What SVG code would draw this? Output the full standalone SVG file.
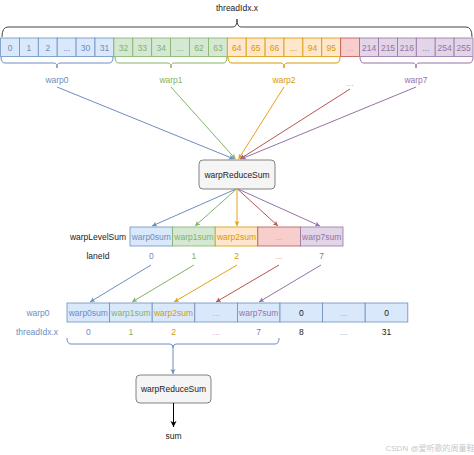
<svg xmlns="http://www.w3.org/2000/svg" width="474" height="455" viewBox="0 0 474 455">
<style>
text{font-family:"Liberation Sans","DejaVu Sans",sans-serif;font-size:8.5px;text-anchor:middle;dominant-baseline:central}
.b{fill:#dae8fc;stroke:#6c8ebf;stroke-width:0.8}
.g{fill:#d5e8d4;stroke:#82b366;stroke-width:0.8}
.o{fill:#ffe6cc;stroke:#d79b00;stroke-width:0.8}
.r{fill:#f8cecc;stroke:#b85450;stroke-width:0.8}
.p{fill:#e1d5e7;stroke:#9673a6;stroke-width:0.8}
.tb{fill:#6c8ebf}.tg{fill:#82b366}.to{fill:#d79b00}.tr{fill:#e8a0a0}.tp{fill:#9673a6}.tk{fill:#222}.tgr{fill:#aaa}
.br{fill:none;stroke-width:1}
.ln{fill:none;stroke-width:1}
.box{fill:#f5f5f5;stroke:#666;stroke-width:0.8}
</style>
<defs>
<marker id="mb" markerWidth="6" markerHeight="6" refX="5" refY="3" orient="auto" markerUnits="userSpaceOnUse"><path d="M0,0.5 L5,3 L0,5.5 L1.2,3 Z" fill="#6c8ebf"/></marker>
<marker id="mg" markerWidth="6" markerHeight="6" refX="5" refY="3" orient="auto" markerUnits="userSpaceOnUse"><path d="M0,0.5 L5,3 L0,5.5 L1.2,3 Z" fill="#82b366"/></marker>
<marker id="mo" markerWidth="6" markerHeight="6" refX="5" refY="3" orient="auto" markerUnits="userSpaceOnUse"><path d="M0,0.5 L5,3 L0,5.5 L1.2,3 Z" fill="#e3a21a"/></marker>
<marker id="mr" markerWidth="6" markerHeight="6" refX="5" refY="3" orient="auto" markerUnits="userSpaceOnUse"><path d="M0,0.5 L5,3 L0,5.5 L1.2,3 Z" fill="#b85450"/></marker>
<marker id="mp" markerWidth="6" markerHeight="6" refX="5" refY="3" orient="auto" markerUnits="userSpaceOnUse"><path d="M0,0.5 L5,3 L0,5.5 L1.2,3 Z" fill="#9673a6"/></marker>
<marker id="mk" markerWidth="7" markerHeight="7" refX="6" refY="3.5" orient="auto" markerUnits="userSpaceOnUse"><path d="M0,0.5 L6,3.5 L0,6.5 L1.5,3.5 Z" fill="#000"/></marker>
</defs>

<!-- top label and brace -->
<g id="threadIdxTop">
<text x="237" y="8" class="tk">threadIdx.x</text>
<path class="br" stroke="#444" d="M2,37 Q2,27 8,27 H233 Q237,27 237,19 Q237,27 241,27 H466 Q472,27 472,37"/>
</g>

<!-- top row of threads -->
<g id="threadsRow">
<rect class="b" x="0.5" y="38" width="18.9" height="18.5"/><text x="10" y="47.5" class="tb">0</text>
<rect class="b" x="19.4" y="38" width="18.9" height="18.5"/><text x="28.9" y="47.5" class="tb">1</text>
<rect class="b" x="38.3" y="38" width="18.9" height="18.5"/><text x="47.8" y="47.5" class="tb">2</text>
<rect class="b" x="57.2" y="38" width="18.9" height="18.5"/><text x="66.7" y="47.5" class="tb">...</text>
<rect class="b" x="76.1" y="38" width="18.9" height="18.5"/><text x="85.6" y="47.5" class="tb">30</text>
<rect class="b" x="95" y="38" width="18.9" height="18.5"/><text x="104.5" y="47.5" class="tb">31</text>

<rect class="g" x="113.9" y="38" width="18.9" height="18.5"/><text x="123.4" y="47.5" class="tg">32</text>
<rect class="g" x="132.8" y="38" width="18.9" height="18.5"/><text x="142.3" y="47.5" class="tg">33</text>
<rect class="g" x="151.7" y="38" width="18.9" height="18.5"/><text x="161.2" y="47.5" class="tg">34</text>
<rect class="g" x="170.6" y="38" width="18.9" height="18.5"/><text x="180.1" y="47.5" class="tg">...</text>
<rect class="g" x="189.5" y="38" width="18.9" height="18.5"/><text x="199" y="47.5" class="tg">62</text>
<rect class="g" x="208.4" y="38" width="18.9" height="18.5"/><text x="217.9" y="47.5" class="tg">63</text>

<rect class="o" x="227.3" y="38" width="18.9" height="18.5"/><text x="236.8" y="47.5" class="to">64</text>
<rect class="o" x="246.2" y="38" width="18.9" height="18.5"/><text x="255.7" y="47.5" class="to">65</text>
<rect class="o" x="265.1" y="38" width="18.9" height="18.5"/><text x="274.6" y="47.5" class="to">66</text>
<rect class="o" x="284" y="38" width="18.9" height="18.5"/><text x="293.5" y="47.5" class="to">...</text>
<rect class="o" x="302.9" y="38" width="18.9" height="18.5"/><text x="312.4" y="47.5" class="to">94</text>
<rect class="o" x="321.8" y="38" width="18.9" height="18.5"/><text x="331.3" y="47.5" class="to">95</text>

<rect class="r" x="340.7" y="38" width="18.9" height="18.5"/><text x="350.2" y="47.5" class="tr">...</text>

<rect class="p" x="359.6" y="38" width="18.9" height="18.5"/><text x="369.1" y="47.5" class="tp">214</text>
<rect class="p" x="378.5" y="38" width="18.9" height="18.5"/><text x="388" y="47.5" class="tp">215</text>
<rect class="p" x="397.4" y="38" width="18.9" height="18.5"/><text x="406.9" y="47.5" class="tp">216</text>
<rect class="p" x="416.3" y="38" width="18.9" height="18.5"/><text x="425.8" y="47.5" class="tp">...</text>
<rect class="p" x="435.2" y="38" width="18.9" height="18.5"/><text x="444.7" y="47.5" class="tp">254</text>
<rect class="p" x="454.1" y="38" width="18.9" height="18.5"/><text x="463.6" y="47.5" class="tp">255</text>
</g>

<!-- warp braces and labels -->
<g id="warp0">
<path class="br" stroke="#6c8ebf" d="M1,57 Q1,63 5,63 H54 Q57,63 57,68 Q57,63 60,63 H109 Q113,63 113,57"/>
<text x="57" y="80" class="tb">warp0</text>
</g>
<g id="warp1">
<path class="br" stroke="#82b366" d="M115,57 Q115,63 119,63 H168 Q171,63 171,68 Q171,63 174,63 H223 Q227,63 227,57"/>
<text x="171" y="80" class="tg">warp1</text>
</g>
<g id="warp2">
<path class="br" stroke="#d79b00" d="M228,57 Q228,63 232,63 H281 Q284,63 284,68 Q284,63 287,63 H336 Q340,63 340,57"/>
<text x="284" y="80" class="to">warp2</text>
</g>
<g id="warpDots">
<text x="350" y="83" class="tr">...</text>
</g>
<g id="warp7">
<path class="br" stroke="#9673a6" d="M360,57 Q360,63 364,63 H413 Q416,63 416,68 Q416,63 419,63 H469 Q473,63 473,57"/>
<text x="416" y="80" class="tp">warp7</text>
</g>

<!-- first reduce -->
<g id="reduce1">
<rect class="box" x="199" y="160" width="76" height="29" rx="4"/>
<text x="237" y="175" class="tk">warpReduceSum</text>
</g>

<!-- warpLevelSum row -->
<g id="warpLevelSum">
<text x="98" y="237" class="tk">warpLevelSum</text>
<rect class="b" x="130" y="227" width="42.6" height="19"/><text x="151.3" y="237" class="tb">warp0sum</text>
<rect class="g" x="172.6" y="227" width="42.6" height="19"/><text x="193.9" y="237" class="tg">warp1sum</text>
<rect class="o" x="215.2" y="227" width="42.6" height="19"/><text x="236.5" y="237" class="to">warp2sum</text>
<rect class="r" x="257.8" y="227" width="42.6" height="19"/><text x="279.1" y="237" class="tr">...</text>
<rect class="p" x="300.4" y="227" width="42.6" height="19"/><text x="321.7" y="237" class="tp">warp7sum</text>
</g>
<g id="laneId">
<text x="98" y="256" class="tk">laneId</text>
<text x="151.3" y="256" class="tb">0</text>
<text x="193.9" y="256" class="tg">1</text>
<text x="236.5" y="256" class="to">2</text>
<text x="279.1" y="256" class="tr">...</text>
<text x="321.7" y="256" class="tp">7</text>
</g>

<!-- warp0 final row -->
<g id="finalRow">
<text x="38" y="313" class="tb">warp0</text>
<rect class="b" x="67" y="303" width="42.6" height="19"/><text x="88.3" y="313" class="tb">warp0sum</text>
<rect class="b" x="109.6" y="303" width="42.6" height="19"/><text x="130.9" y="313" class="tg">warp1sum</text>
<rect class="b" x="152.2" y="303" width="42.6" height="19"/><text x="173.5" y="313" class="to">warp2sum</text>
<rect class="b" x="194.8" y="303" width="42.6" height="19"/><text x="216.1" y="313" class="tr">...</text>
<rect class="b" x="237.4" y="303" width="42.6" height="19"/><text x="258.7" y="313" class="tp">warp7sum</text>
<rect class="b" x="280" y="303" width="42.6" height="19"/><text x="301.3" y="313" class="tk">0</text>
<rect class="b" x="322.6" y="303" width="42.6" height="19"/><text x="343.9" y="313" class="tgr">...</text>
<rect class="b" x="365.2" y="303" width="42.6" height="19"/><text x="386.5" y="313" class="tk">0</text>
</g>
<g id="threadIdxBottom">
<text x="37" y="332" class="tb">threadIdx.x</text>
<text x="88.3" y="332" class="tb">0</text>
<text x="130.9" y="332" class="tg">1</text>
<text x="173.5" y="332" class="to">2</text>
<text x="216.1" y="332" class="tr">...</text>
<text x="258.7" y="332" class="tp">7</text>
<text x="301.3" y="332" class="tk">8</text>
<text x="343.9" y="332" class="tgr">...</text>
<text x="386.5" y="332" class="tk">31</text>
<path class="br" stroke="#6c8ebf" d="M67,338 Q67,344 71,344 H170 Q173,344 173,348 Q173,344 176,344 H275 Q279,344 279,338"/>
</g>

<!-- second reduce -->
<g id="reduce2">
<rect class="box" x="136" y="375" width="75" height="28" rx="4"/>
<text x="173.5" y="389" class="tk">warpReduceSum</text>
</g>
<g id="sum">
<text x="173.5" y="436" class="tk">sum</text>
</g>

<!-- connectors -->
<g id="connectors">
<line class="ln" stroke="#6c8ebf" x1="57" y1="87" x2="234" y2="159" marker-end="url(#mb)"/>
<line class="ln" stroke="#82b366" x1="171" y1="87" x2="235.5" y2="159" marker-end="url(#mg)"/>
<line class="ln" stroke="#e3a21a" x1="284" y1="87" x2="238.5" y2="159" marker-end="url(#mo)"/>
<line class="ln" stroke="#b85450" x1="350" y1="89" x2="240" y2="159" marker-end="url(#mr)"/>
<line class="ln" stroke="#9673a6" x1="416" y1="87" x2="241" y2="159" marker-end="url(#mp)"/>

<line class="ln" stroke="#6c8ebf" x1="236" y1="189" x2="152" y2="226" marker-end="url(#mb)"/>
<line class="ln" stroke="#82b366" x1="236.5" y1="189" x2="195" y2="226" marker-end="url(#mg)"/>
<line class="ln" stroke="#e3a21a" stroke-width="1.4" x1="237" y1="189" x2="237" y2="226" marker-end="url(#mo)"/>
<line class="ln" stroke="#b85450" x1="237.5" y1="189" x2="278" y2="226" marker-end="url(#mr)"/>
<line class="ln" stroke="#9673a6" x1="238" y1="189" x2="320" y2="226" marker-end="url(#mp)"/>

<line class="ln" stroke="#6c8ebf" x1="151" y1="265" x2="90" y2="302" marker-end="url(#mb)"/>
<line class="ln" stroke="#82b366" x1="194" y1="265" x2="132" y2="302" marker-end="url(#mg)"/>
<line class="ln" stroke="#e3a21a" x1="237" y1="265" x2="174" y2="302" marker-end="url(#mo)"/>
<line class="ln" stroke="#b85450" x1="279" y1="265" x2="216" y2="302" marker-end="url(#mr)"/>
<line class="ln" stroke="#9673a6" x1="321" y1="265" x2="259" y2="302" marker-end="url(#mp)"/>

<line class="ln" stroke="#6c8ebf" x1="173" y1="348" x2="173" y2="374" marker-end="url(#mb)"/>
<line class="ln" stroke="#000" x1="173.5" y1="403" x2="173.5" y2="427" marker-end="url(#mk)"/>
</g>

<text x="430" y="448" style="font-size:8px;fill:#c8c8c8;font-family:'Liberation Sans','Noto Sans CJK SC',sans-serif">CSDN @爱听歌的周童鞋</text>
</svg>
